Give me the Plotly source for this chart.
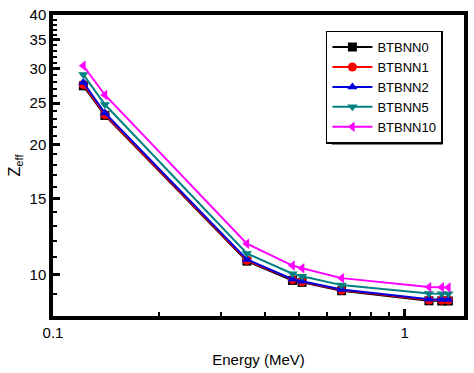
import plotly.graph_objects as go

energy = [0.122, 0.1405, 0.356, 0.48, 0.511, 0.662, 1.173, 1.275, 1.332]
series_names = ["BTBNN0", "BTBNN1", "BTBNN2", "BTBNN5", "BTBNN10"]
zeff_btbnn0 = [27.4, 23.4, 10.75, 9.70, 9.60, 9.18, 8.70, 8.69, 8.69]
zeff_btbnn1 = [27.6, 23.5, 10.80, 9.74, 9.63, 9.21, 8.74, 8.73, 8.73]
zeff_btbnn2 = [27.9, 23.7, 10.85, 9.76, 9.66, 9.24, 8.77, 8.76, 8.76]
zeff_btbnn5 = [29.1, 24.8, 11.2, 10.05, 9.92, 9.46, 9.04, 9.03, 9.03]
zeff_btbnn10 = [30.5, 26.1, 11.8, 10.5, 10.35, 9.82, 9.36, 9.35, 9.34]

y_ticks = [10, 15, 20, 25, 30, 35, 40]
x_ticks = [0.1, 1]

all_y = [zeff_btbnn0, zeff_btbnn1, zeff_btbnn2, zeff_btbnn5, zeff_btbnn10]
colors = ["#000000", "#ff0000", "#0000dd", "#008080", "#ff00ff"]
symbols = ["square", "circle", "triangle-up", "triangle-down", "triangle-left"]

fig = go.Figure()
for name, ys, c, s in zip(series_names, all_y, colors, symbols):
    fig.add_trace(go.Scatter(
        x=energy, y=ys, name=name, mode="lines+markers",
        line=dict(color=c, width=2),
        marker=dict(symbol=s, size=9, color=c),
    ))

font = "Liberation Sans, Arial, sans-serif"
fig.update_layout(
    width=474, height=373,
    margin=dict(l=53, r=6, t=11, b=54),
    paper_bgcolor="white", plot_bgcolor="white",
    font=dict(family=font, size=15, color="black"),
    showlegend=True,
    legend=dict(
        x=0.664, y=0.948, xanchor="left", yanchor="top",
        bgcolor="white", bordercolor="black", borderwidth=1.5,
        font=dict(size=13, family=font),
        itemwidth=40, tracegroupgap=0,
    ),
    xaxis=dict(
        type="log", range=[-1, 0.169],
        tickvals=x_ticks, ticktext=["0.1", "1"],
        ticks="inside", ticklen=7, tickwidth=2.5, tickcolor="black",
        minor=dict(tickvals=[0.2, 0.3, 0.4, 0.5, 0.6, 0.7, 0.8, 0.9],
                   ticks="inside", ticklen=4, tickwidth=2, tickcolor="black"),
        showline=True, linewidth=3.5, linecolor="black", mirror=True,
        showgrid=False, zeroline=False,
        title=dict(text="Energy (MeV)", standoff=16, font=dict(size=15)),
    ),
    yaxis=dict(
        type="log", range=[0.9043, 1.602],
        tickvals=y_ticks, ticktext=[str(v) for v in y_ticks],
        ticks="inside", ticklen=7, tickwidth=2.5, tickcolor="black",
        minor=dict(tickvals=[v for v in range(8, 41) if v not in y_ticks],
                   ticks="inside", ticklen=4, tickwidth=2, tickcolor="black"),
        showline=True, linewidth=3.5, linecolor="black", mirror=True,
        showgrid=False, zeroline=False,
        title=dict(text="Z<sub>eff</sub>", standoff=6, font=dict(size=16)),
    ),
    shapes=[dict(type="rect", xref="paper", yref="paper",
                 x0=0.678, x1=0.948, y0=0.57, y1=0.93,
                 fillcolor="black", line=dict(width=0), layer="below")],
)

fig.write_html("out.html", config={"displayModeBar": False})
with open("out.html", "r", encoding="utf-8") as f:
    html = f.read()
html = html.replace("<head>", "<head><style>html,body{margin:0;padding:0;overflow:hidden;}</style>", 1)
with open("out.html", "w", encoding="utf-8") as f:
    f.write(html)
